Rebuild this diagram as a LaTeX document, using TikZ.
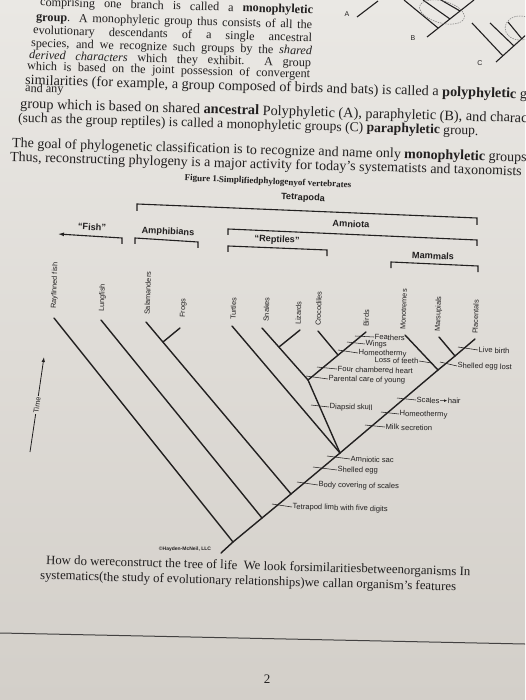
\documentclass[tikz,border=0pt]{standalone}
\usepackage{fontspec}
\setmainfont{Liberation Serif}
\newfontfamily\figfont{Liberation Sans}
\usetikzlibrary{positioning,arrows.meta}

\definecolor{paperlight}{RGB}{234,232,228}
\definecolor{paperdark}{RGB}{211,207,201}
\definecolor{ink}{RGB}{34,32,32}

\tikzset{
  branch/.style={line width=1.4pt, draw=ink, line cap=round},
  bracket/.style={line width=1.1pt, draw=ink},
  leader/.style={line width=0.55pt, draw=ink},
  fragment/.style={line width=1.1pt, draw=ink},
  loop/.style={line width=0.5pt, draw=ink!60, dash pattern=on 1.5pt off 1pt},
  tiplabel/.style={font=\figfont\fontsize{7.3}{8}\selectfont, text=ink, rotate=88, anchor=west, inner sep=0pt},
  trait/.style={font=\figfont\fontsize{7.6}{8}\selectfont, text=ink, anchor=west, inner sep=0.5pt, rotate=-1.5},
  cladelabel/.style={font=\figfont\bfseries\fontsize{9.2}{10}\selectfont, text=ink, inner sep=0pt, rotate=-2.5},
  bodyline/.style={font=\fontsize{12.2}{14}\selectfont, text=ink, anchor=west, inner sep=0pt, rotate=-1.6},
  wideline/.style={bodyline, font=\fontsize{14}{15}\selectfont},
  letter/.style={font=\figfont\fontsize{7}{8}\selectfont, text=ink, inner sep=0pt},
}

\begin{document}
\begin{tikzpicture}[x=1pt, y=-1pt]

    % Page and paper
    \useasboundingbox (0,0) rectangle (525,700);
    \clip (0,0) rectangle (525,700);
    \shade[top color=paperlight, bottom color=paperdark] (0,0) rectangle (525,700);

    % Running text, upper column
    \node[bodyline] (p1) at (40,3) {\makebox[273pt][s]{comprising one branch is called a \textbf{monophyletic}}};
    \node[bodyline] (p2) at (36,18) {\makebox[276pt][s]{\textbf{group}. A monophyletic group thus consists of all the}};
    \node[bodyline] (p3) at (33,31) {\makebox[279pt][s]{evolutionary descendants of a single ancestral}};
    \node[bodyline] (p4) at (31,44) {\makebox[281pt][s]{species, and we recognize such groups by the \textit{shared}}};
    \node[bodyline] (p5) at (29,56) {\makebox[282pt][s]{\textit{derived characters} which they exhibit.\ \ A group}};
    \node[bodyline] (p6) at (27,67) {\makebox[283pt][s]{which is based on the joint possession of convergent}};
    \node[wideline, font=\fontsize{14.2}{15}\selectfont] (p7) at (25,81) {similarities (for example, a group composed of birds and bats) is called a \textbf{polyphyletic} group};
    \node[bodyline] (p8) at (25,89) {and any};
    \node[wideline, font=\fontsize{14.3}{15}\selectfont] (p9) at (20,105) {group which is based on shared \textbf{ancestral} Polyphyletic (A), paraphyletic (B), and characters};
    \node[wideline, font=\fontsize{13.6}{15}\selectfont] (p10) at (18,119) {(such as the group reptiles) is called a monophyletic groups (C) \textbf{paraphyletic} group.};
    \node[wideline] (p11) at (12,144) {The goal of phylogenetic classification is to recognize and name only \textbf{monophyletic} groups};
    \node[wideline] (p12) at (10,158) {Thus, reconstructing phylogeny is a major activity for today's systematists and taxonomists};

    % Small trees A, B, C (cut by the page edge)
    \node[letter] (la) at (347,14) {A};
    \node[letter] (lb) at (413,38) {B};
    \node[letter] (lc) at (480,63) {C};
    \draw[fragment] (357,17) -- (378,1);
    \draw[fragment] (427,37) -- (474,0);
    \draw[fragment] (404,0) -- (438,28);
    \draw[fragment] (423,0) -- (450,19);
    \draw[fragment] (441,0) -- (460,11);
    \draw[loop, rotate around={-15:(442,12)}] (442,12) ellipse (23 and 11);
    \draw[fragment] (496,62) -- (527,34);
    \draw[fragment] (472,23) -- (503,56);
    \draw[fragment] (490,23) -- (514,46);
    \draw[fragment] (508,22) -- (522,39);
    \draw[loop] (520,28) ellipse (15 and 12);

    % Figure title
    \node[font=\bfseries\fontsize{9}{10}\selectfont, text=ink, rotate=-2.5, inner sep=0pt] (title) at (268,182) {Figure 1.Simplifiedphylogenyof vertebrates};

    % Clade brackets
    \draw[bracket] (137,211) -- (137,204) -- (477,218) -- (477,225);
    \node[cladelabel] (tetra) at (303,198) {Tetrapoda};
    \draw[bracket] (228,235) -- (228,229) -- (477,240) -- (477,246);
    \node[cladelabel] (amnio) at (351,224) {Amniota};
    \draw[bracket] (228,252) -- (228,246) -- (327,250) -- (327,256);
    \node[cladelabel] (rept) at (277,240) {“Reptiles”};
    \draw[bracket] (391,268) -- (391,262) -- (478,266) -- (478,272);
    \node[cladelabel] (mamm) at (433,256) {Mammals};
    \draw[bracket] (135,244) -- (135,238) -- (198,242) -- (198,248);
    \node[cladelabel] (amph) at (168,232) {Amphibians};
    \draw[bracket, {Latex[length=6pt,width=4pt]}-] (58,234) -- (122,238) -- (122,244);
    \node[cladelabel] (fish) at (92,227) {“Fish”};

    % Tree: main stem
    \coordinate (root) at (221,553);
    \coordinate (jRay) at (233,542);
    \coordinate (jLung) at (262,518);
    \coordinate (jAmph) at (291,494);
    \coordinate (jAmn) at (340,453);
    \coordinate (jMono) at (438,370);
    \coordinate (jMars) at (455,356);
    \coordinate (tPlac) at (475,339);

    % Tree: tips and inner joints
    \coordinate (tRay) at (54,318);
    \coordinate (tLung) at (101,320);
    \coordinate (tSal) at (146,322);
    \coordinate (jFrog) at (163,342);
    \coordinate (tFrog) at (180,328);
    \coordinate (tTurt) at (232,326);
    \coordinate (jDiap) at (308,380);
    \coordinate (tSnak) at (262,328);
    \coordinate (jLiz) at (279,347);
    \coordinate (tLiz) at (300,330);
    \coordinate (jCroc) at (338,355);
    \coordinate (tCroc) at (318,331);
    \coordinate (tBird) at (366,332);
    \coordinate (tMono) at (405,335);
    \coordinate (tMars) at (439,337);

    \draw[branch] (root) -- (jRay) -- (jLung) -- (jAmph) -- (jAmn) -- (jMono) -- (jMars) -- (tPlac);
    \draw[branch] (tRay) -- (jRay);
    \draw[branch] (tLung) -- (jLung);
    \draw[branch] (tSal) -- (jAmph);
    \draw[branch] (tFrog) -- (jFrog);
    \draw[branch] (tTurt) -- (jAmn);
    \draw[branch] (jAmn) -- (jDiap);
    \draw[branch] (tSnak) -- (jDiap) -- (tBird);
    \draw[branch] (tLiz) -- (jLiz);
    \draw[branch] (tCroc) -- (jCroc);
    \draw[branch] (tMono) -- (jMono);
    \draw[branch] (tMars) -- (jMars);

    % Tip labels
    \node[tiplabel] (nRay) at (54,309) {Rayfinned fish};
    \node[tiplabel] (nLung) at (102,312) {Lungfish};
    \node[tiplabel] (nSal) at (147,315) {Salamanders};
    \node[tiplabel] (nFrog) at (183,318) {Frogs};
    \node[tiplabel] (nTurt) at (233,320) {Turtles};
    \node[tiplabel] (nSnak) at (266,322) {Snakes};
    \node[tiplabel] (nLiz) at (298,325) {Lizards};
    \node[tiplabel] (nCroc) at (318,326) {Crocodiles};
    \node[tiplabel] (nBird) at (366,327) {Birds};
    \node[tiplabel] (nMono) at (403,330) {Monotremes};
    \node[tiplabel] (nMars) at (438,332) {Marsupials};
    \node[tiplabel] (nPlac) at (475,334) {Placentals};

    % Derived characters along the branches
    \foreach \ax/\ay/\bx/\by/\lab [count=\k] in {
        355/336/374/337/Feathers,
        347/342/365/344/Wings,
        338/350/358/353/Homeothermy,
        317/367/337/369/Four chambered heart,
        306/376/328/379/Parental care of young,
        311/405/329/407/Diapsid skull,
        381/412/399/414/Homeothermy,
        365/425/385/427/Milk secretion,
        327/456/350/459/Amniotic sac,
        313/467/337/470/Shelled egg,
        297/482/318/485/Body covering of scales,
        272/504/292/507/Tetrapod limb with five digits,
        458/347/478/350/Live birth,
        440/362/457/366/Shelled egg lost} {
        \coordinate (k\k) at (\ax,\ay);
        \node[trait] (c\k) at (\bx,\by) {\lab};
        \draw[leader] (k\k) -- (c\k.west);
    }
    \coordinate (kScales) at (397,398);
    \node[trait] (scales) at (416,400) {Scales};
    \node[trait, right=7pt of scales] (hair) {hair};
    \draw[leader] (kScales) -- (scales.west);
    \draw[leader, -{Latex[length=3pt,width=2.6pt]}] (scales) -- (hair);
    \coordinate (kTeeth) at (432,363);
    \node[trait, anchor=east] (teeth) at (419,361) {Loss of teeth};
    \draw[leader] (teeth.east) -- (kTeeth);

    % Time arrow
    \coordinate (timeLo) at (30,452);
    \coordinate (timeHi) at (44,357);
    \node[font=\figfont\fontsize{7.3}{8}\selectfont, text=ink, rotate=81.6, inner sep=1pt] (time) at (37,405) {Time};
    \draw[leader, line width=0.8pt] (timeLo) -- (time);
    \draw[leader, line width=0.8pt, -{Latex[length=5pt,width=3.5pt]}] (time) -- (timeHi);

    % Credit line
    \node[font=\figfont\bfseries\fontsize{5}{6}\selectfont, text=ink, inner sep=0pt] (credit) at (185,549) {©Hayden-McNeil, LLC};

    % Running text, lower part
    \node[bodyline, font=\fontsize{12.8}{14}\selectfont] (q1) at (46,561) {How do wereconstruct the tree of life\enspace We look forsimilaritiesbetweenorganisms In};
    \node[bodyline, font=\fontsize{12.8}{14}\selectfont] (q2) at (40,576) {systematics(the study of evolutionary relationships)we callan organism's features};

    % Page foot
    \draw[line width=1pt, draw=ink!85] (0,633) -- (525,644);
    \node[font=\fontsize{13}{14}\selectfont, text=ink] (pageno) at (267,679) {2};

\end{tikzpicture}
\end{document}
